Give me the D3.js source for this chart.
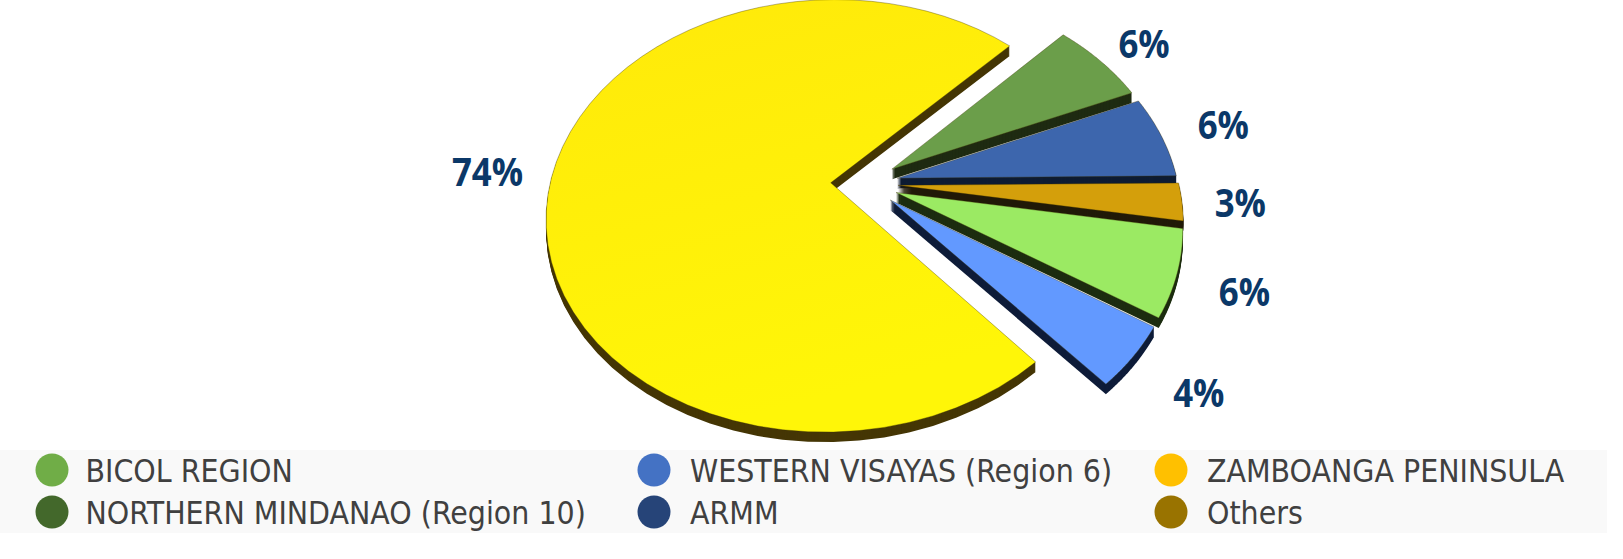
<!DOCTYPE html>
<html>
<head>
<meta charset="utf-8">
<title>Pie</title>
<script src="https://cdn.jsdelivr.net/npm/d3@7"></script>
<style>
  html, body { margin: 0; padding: 0; background: #fff; }
  svg { display: block; }
  .legend text { font-family: "DejaVu Sans Condensed", "DejaVu Sans", sans-serif; font-stretch: condensed; font-size: 31.7px; fill: #404040; }
  .pct { font-family: "Open Sans", sans-serif; font-weight: 700; font-size: 40px; fill: #0b3868; }
</style>
</head>
<body>
<div id="chart"></div>
<script>
const sliceValues = [6.4, 6.2, 2.8, 6.4, 4.5, 73.7];
const sliceLabels = ['6%', '6%', '3%', '6%', '4%', '74%'];
const topColors = ['#6b9e4a', '#3d66ad', '#d49f0b', '#9bea63', '#6299ff', 'url(#yellowTop)'];
const wallColors = ['#1f2b12', '#0e1c33', '#211a08', '#1d2d10', '#0f1d3a', '#453605'];

const legendNames = ['BICOL REGION', 'NORTHERN MINDANAO (Region 10)', 'WESTERN VISAYAS (Region 6)', 'ARMM', 'ZAMBOANGA PENINSULA', 'Others'];
const legendColors = ['#70ad47', '#43682b', '#4472c4', '#264478', '#ffc000', '#997300'];

const width = 1623, height = 559;
const depth = 10, explode = 0.12, tilt = -0.153, labelGap = 1.23;
const stretch = Math.sqrt(1 - tilt * tilt);
// the labels were hand placed in the original, so they sit a bit off the radial line
const labelNudge = [[0, 4.5], [3, -3], [-8, -3], [-2, -2], [2, -5.5], [0, -5]];

const x = d3.scaleLinear().domain([-1, 1]).range([580.4, 1148.4]);
const y = d3.scaleLinear().domain([-1, 1]).range([0, 433]);

// disc coordinates to screen, the pie is a tilted circle so its centre sits above the ellipse centre
const project = (u, v) => {
  const w = 1 + tilt * v;
  return [x(u * stretch / w), y((v + tilt) / w)];
};

const pie = d3.pie().value(d => d).sort(null)
  .startAngle(44 * Math.PI / 180)
  .endAngle((44 + 360) * Math.PI / 180);
const arcs = pie(sliceValues);

const slicePoints = d => {
  const mid = (d.startAngle + d.endAngle) / 2;
  const ox = explode * Math.sin(mid), oy = -explode * Math.cos(mid);
  const steps = d3.range(0, 61).map(i => d.startAngle + (d.endAngle - d.startAngle) * i / 60);
  return [[ox, oy]].concat(steps.map(a => [ox + Math.sin(a), oy - Math.cos(a)])).map(p => project(p[0], p[1]));
};

const line = d3.line().curve(d3.curveLinearClosed);

const svg = d3.select('#chart').append('svg')
  .attr('width', width)
  .attr('height', height);

const grad = svg.append('defs').append('linearGradient')
  .attr('id', 'yellowTop')
  .attr('x1', 0).attr('y1', 0)
  .attr('x2', 0.3).attr('y2', 1);
grad.append('stop').attr('offset', '0%').attr('stop-color', '#ffe90a');
grad.append('stop').attr('offset', '100%').attr('stop-color', '#fff608');

const legend = svg.append('g').attr('class', 'legend');
legend.append('rect')
  .attr('x', 0).attr('y', 450)
  .attr('width', 1607).attr('height', 83)
  .attr('fill', '#f9f9f9');

const g = svg.selectAll('.slice')
  .data(arcs)
  .enter().append('g')
    .attr('class', 'slice');

g.each(function(d, i) {
  const sel = d3.select(this);
  const pts = slicePoints(d);
  sel.selectAll('.wall')
    .data(d3.range(depth, 0, -1))
    .enter().append('path')
      .attr('class', 'wall')
      .attr('d', line(pts))
      .attr('transform', k => `translate(0, ${k})`)
      .attr('fill', wallColors[i]);
  sel.append('path')
    .attr('d', line(pts))
    .attr('fill', topColors[i])
    .attr('stroke', '#3a3000')
    .attr('stroke-opacity', 0.45)
    .attr('stroke-width', 0.8);
});

svg.selectAll('.pct')
  .data(arcs)
  .enter().append('text')
    .attr('class', 'pct')
    .each(function(d, i) {
      const mid = (d.startAngle + d.endAngle) / 2;
      const p = project((explode + labelGap) * Math.sin(mid), -(explode + labelGap) * Math.cos(mid));
      d3.select(this)
        .attr('transform', `translate(${p[0] + labelNudge[i][0]}, ${p[1] + labelNudge[i][1]}) scale(0.87, 1)`)
        .attr('dy', '.36em')
        .attr('text-anchor', 'middle')
        .text(sliceLabels[i]);
    });

const legendX = i => [52, 654, 1171][Math.floor(i / 2)];
const legendY = i => [470, 512][i % 2];
const legendTextX = i => [33.5, 36, 36][Math.floor(i / 2)];

const item = legend.selectAll('.item')
  .data(legendNames)
  .enter().append('g')
    .attr('class', 'item')
    .attr('transform', (d, i) => `translate(${legendX(i)}, ${legendY(i)})`);

item.append('circle')
  .attr('r', 16.5)
  .attr('fill', (d, i) => legendColors[i]);

item.append('text')
  .attr('x', (d, i) => legendTextX(i))
  .attr('y', 11.5)
  .text(d => d);
</script>
</body>
</html>
